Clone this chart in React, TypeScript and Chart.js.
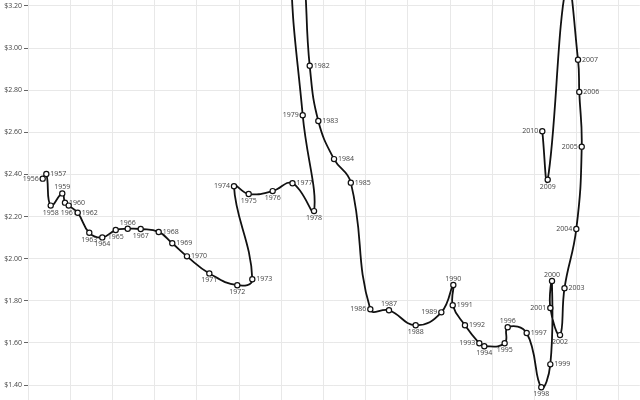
import React, { useEffect, useRef } from "react";
import { Chart, registerables } from "chart.js";

Chart.register(...registerables);

const years = [
  1956, 1957, 1958, 1959, 1960, 1961, 1962, 1963, 1964, 1965,
  1966, 1967, 1968, 1969, 1970, 1971, 1972, 1973, 1974, 1975,
  1976, 1977, 1978, 1979, 1980, 1981, 1982, 1983, 1984, 1985,
  1986, 1987, 1988, 1989, 1990, 1991, 1992, 1993, 1994, 1995,
  1996, 1997, 1998, 1999, 2000, 2001, 2002, 2003, 2004, 2005,
  2006, 2007, 2008, 2009, 2010,
];

const miles = [
  3674, 3717, 3769, 3906, 3938, 3982, 4089, 4226, 4380, 4539,
  4681, 4835, 5048, 5209, 5383, 5648, 5979, 6157, 5940, 6114,
  6398, 6633, 6888, 6754, 6615, 6734, 6837, 6939, 7125, 7324,
  7555, 7776, 8092, 8396, 8538, 8531, 8676, 8846, 8905, 9146,
  9182, 9407, 9580, 9687, 9707, 9687, 9802, 9855, 9995, 10059,
  10030, 10015, 9884, 9656, 9592,
];

const prices = [
  2.38, 2.402, 2.252, 2.31, 2.266, 2.252, 2.218, 2.123, 2.101, 2.136,
  2.142, 2.141, 2.127, 2.073, 2.011, 1.93, 1.874, 1.902, 2.344, 2.307,
  2.321, 2.358, 2.226, 2.681, 3.418, 3.442, 2.916, 2.654, 2.473, 2.361,
  1.76, 1.755, 1.684, 1.745, 1.875, 1.779, 1.684, 1.598, 1.584, 1.598,
  1.674, 1.647, 1.389, 1.498, 1.894, 1.766, 1.637, 1.86, 2.141, 2.532,
  2.792, 2.945, 3.31, 2.375, 2.605,
];

const labelSides = [
  "l", "r", "b", "t", "r", "b", "r", "b", "b", "b",
  "t", "b", "r", "r", "r", "b", "b", "r", "l", "b",
  "b", "r", "b", "l", "l", "r", "r", "r", "r", "r",
  "l", "t", "b", "l", "t", "r", "r", "l", "b", "b",
  "t", "r", "b", "r", "t", "l", "b", "r", "l", "l",
  "r", "r", "t", "b", "l",
];

const yTickValues = [1.4, 1.6, 1.8, 2.0, 2.2, 2.4, 2.6, 2.8, 3.0, 3.2];
const xGridValues = [
  3500, 4000, 4500, 5000, 5500, 6000, 6500, 7000, 7500, 8000,
  8500, 9000, 9500, 10000, 10500,
];

const FONT = "'Open Sans', 'DejaVu Sans', sans-serif";

const yearLabelsPlugin = {
  id: "yearLabels",
  afterDatasetDraw(chart: any, args: any) {
    if (args.index !== 1) return;
    const meta = chart.getDatasetMeta(1);
    const ctx = chart.ctx;
    ctx.save();
    ctx.font = `7px ${FONT}`;
    ctx.fillStyle = "#444";
    meta.data.forEach((el: any, i: number) => {
      const side = labelSides[i];
      const txt = String(years[i]);
      const x = el.x;
      const y = el.y;
      if (side === "r") {
        ctx.textAlign = "left";
        ctx.textBaseline = "middle";
        ctx.fillText(txt, x + 4, y);
      } else if (side === "l") {
        ctx.textAlign = "right";
        ctx.textBaseline = "middle";
        ctx.fillText(txt, x - 4, y);
      } else if (side === "t") {
        ctx.textAlign = "center";
        ctx.textBaseline = "alphabetic";
        ctx.fillText(txt, x, y - 4);
      } else {
        ctx.textAlign = "center";
        ctx.textBaseline = "top";
        ctx.fillText(txt, x, y + 3.5);
      }
    });
    ctx.restore();
  },
};

export default function App() {
  const ref = useRef<HTMLCanvasElement | null>(null);

  useEffect(() => {
    document.body.style.margin = "0";
    document.body.style.overflow = "hidden";
    const canvas = ref.current;
    if (!canvas) return;
    const pts = years.map((_, i) => ({ x: miles[i], y: prices[i] }));
    const pxPerDollar = 210.56;
    const yMax = 3.2 + 16 / pxPerDollar;
    const yMin = yMax - 420 / pxPerDollar;
    const chart = new Chart(canvas, {
      type: "scatter",
      data: {
        datasets: [
          {
            data: pts,
            showLine: false,
            pointRadius: 2.6,
            pointBorderWidth: 1.2,
            pointBorderColor: "#111",
            pointBackgroundColor: "#fff",
            order: 0,
          },
          {
            data: pts,
            showLine: true,
            borderColor: "#111",
            borderWidth: 1.8,
            tension: 0.45,
            pointRadius: 0,
            order: 1,
          },
        ],
      },
      options: {
        animation: false,
        responsive: false,
        devicePixelRatio: 1,
        layout: { padding: { top: 10, bottom: 10, left: 0, right: 0 } },
        elements: { line: { capBezierPoints: false } },
        plugins: {
          legend: { display: false },
          tooltip: { enabled: false },
        },
        scales: {
          x: {
            type: "linear",
            min: 3500,
            max: 10747,
            afterBuildTicks: (axis: any) => {
              axis.ticks = xGridValues.map((v) => ({ value: v }));
            },
            afterFit: (scale: any) => {
              scale.height = 0;
            },
            ticks: { display: false },
            grid: { color: "#e8e8e8", lineWidth: 1, drawTicks: false },
            border: { display: false },
          },
          y: {
            type: "linear",
            min: yMin,
            max: yMax,
            afterBuildTicks: (axis: any) => {
              axis.ticks = yTickValues.map((v) => ({ value: v }));
            },
            afterFit: (scale: any) => {
              scale.width = 28;
            },
            ticks: {
              padding: 2,
              color: "#444",
              font: { family: FONT, size: 7 },
              callback: (v: any) => "$" + Number(v).toFixed(2),
            },
            grid: {
              color: "#e8e8e8",
              lineWidth: 1,
              tickLength: 4,
              tickColor: "#666",
              tickWidth: 1,
            },
            border: { display: false },
          },
        },
      },
      plugins: [yearLabelsPlugin],
    });
    return () => chart.destroy();
  }, []);

  return (
    <div style={{ position: "fixed", top: -20, left: 0, width: 645, height: 440 }}>
      <canvas ref={ref} width={645} height={440} />
    </div>
  );
}
